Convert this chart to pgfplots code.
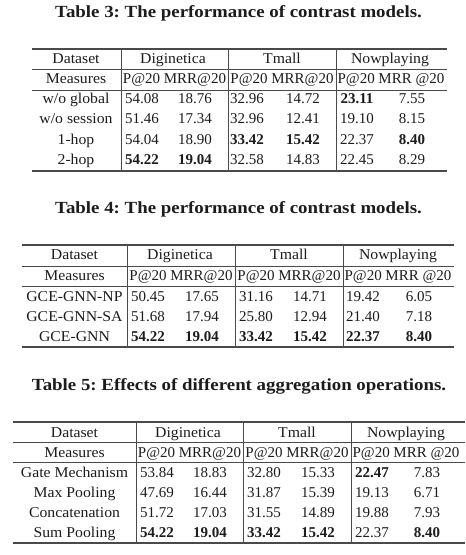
\documentclass[border=0pt]{standalone}
\usepackage{pgfplots}
\pgfplotsset{compat=1.18}
\usepackage{fontspec}
\setmainfont{Liberation Serif}
\newfontfamily\widefont{Liberation Serif}[FakeStretch=1.05]
\newfontfamily\titlefam{Liberation Serif}[FakeStretch=1.11]
\definecolor{rule}{HTML}{4A4A4A}
\definecolor{ink}{HTML}{1C1C1C}
\frenchspacing
\newcommand{\cellfont}{\fontsize{15bp}{17bp}\selectfont}
\newcommand{\labfont}{\widefont\fontsize{15bp}{17bp}\selectfont}
\newcommand{\titlefont}{\titlefam\fontsize{17bp}{19bp}\selectfont\bfseries}
\pgfplotsset{
  cells/.style={draw=none, mark=none, nodes near coords, point meta=explicit symbolic,
    every node near coord/.append style={anchor=base, inner sep=0pt, text=ink, font=\cellfont}},
  boldcells/.style={cells, every node near coord/.append style={font=\cellfont\bfseries}},
}
\begin{document}
\begin{tikzpicture}
\begin{axis}[
  hide axis, scale only axis, clip=false,
  width=465bp, height=555bp,
  xmin=0, xmax=465, ymin=0, ymax=555, y dir=reverse,
]
% ---------------- Table 3
\node[anchor=base, font=\titlefont, text=ink] at (axis cs:238.5,17.5) {Table 3: The performance of contrast models.};
\draw[rule, line width=1.3bp] (axis cs:32,49) -- (axis cs:447,49);
\draw[rule, line width=0.8bp] (axis cs:32,69) -- (axis cs:447,69);
\draw[rule, line width=0.8bp] (axis cs:32,90) -- (axis cs:447,90);
\draw[rule, line width=1.3bp] (axis cs:32,171) -- (axis cs:447,171);
\pgfplotsinvokeforeach{121,228,336}{\draw[rule, line width=0.8bp] (axis cs:#1,49) -- (axis cs:#1,171);}
\begin{scope}[every node/.style={anchor=base, font=\labfont, text=ink}]
\node at (axis cs:76,64) {Dataset};
\node at (axis cs:173,64) {Diginetica};
\node at (axis cs:282,64) {Tmall};
\node at (axis cs:390,64) {Nowplaying};
\node at (axis cs:76,84) {Measures};
\node at (axis cs:76,104) {w/o global};
\node at (axis cs:76,124) {w/o session};
\node at (axis cs:76,144) {1-hop};
\node at (axis cs:76,164) {2-hop};
\end{scope}
\begin{scope}[every node/.style={anchor=base, font=\cellfont, text=ink}]
\node at (axis cs:174.5,84) {P@20 MRR@20};
\node at (axis cs:282,84) {P@20 MRR@20};
\node at (axis cs:391,84) {P@20 MRR @20};
\end{scope}
\addplot[cells] coordinates {
  (142,104) [54.08] (142,124) [51.46] (142,144) [54.04]
  (195,104) [18.76] (195,124) [17.34] (195,144) [18.90]
  (247,104) [32.96] (247,124) [32.96] (247,164) [32.58]
  (303,104) [14.72] (303,124) [12.41] (303,164) [14.83]
  (357,124) [19.10] (357,144) [22.37] (357,164) [22.45]
  (412,104) [7.55] (412,124) [8.15] (412,164) [8.29]
};
\addplot[boldcells] coordinates {
  (142,164) [54.22] (195,164) [19.04]
  (247,144) [33.42] (303,144) [15.42]
  (357,104) [23.11] (412,144) [8.40]
};
% ---------------- Table 4
\node[anchor=base, font=\titlefont, text=ink] at (axis cs:238.5,213) {Table 4: The performance of contrast models.};
\draw[rule, line width=1.3bp] (axis cs:22,245) -- (axis cs:454,245);
\draw[rule, line width=0.8bp] (axis cs:22,266) -- (axis cs:454,266);
\draw[rule, line width=0.8bp] (axis cs:22,286) -- (axis cs:454,286);
\draw[rule, line width=1.3bp] (axis cs:22,347) -- (axis cs:454,347);
\pgfplotsinvokeforeach{127,235,343}{\draw[rule, line width=0.8bp] (axis cs:#1,245) -- (axis cs:#1,347);}
\begin{scope}[every node/.style={anchor=base, font=\labfont, text=ink}]
\node at (axis cs:74.5,259) {Dataset};
\node at (axis cs:180,259) {Diginetica};
\node at (axis cs:289,259) {Tmall};
\node at (axis cs:398,259) {Nowplaying};
\node at (axis cs:74.5,280) {Measures};
\node at (axis cs:74.5,301) {GCE-GNN-NP};
\node at (axis cs:74.5,321) {GCE-GNN-SA};
\node at (axis cs:74.5,341) {GCE-GNN};
\end{scope}
\begin{scope}[every node/.style={anchor=base, font=\cellfont, text=ink}]
\node at (axis cs:181,280) {P@20 MRR@20};
\node at (axis cs:289,280) {P@20 MRR@20};
\node at (axis cs:398,280) {P@20 MRR @20};
\end{scope}
\addplot[cells] coordinates {
  (148,301) [50.45] (148,321) [51.68]
  (202,301) [17.65] (202,321) [17.94]
  (256,301) [31.16] (256,321) [25.80]
  (310,301) [14.71] (310,321) [12.94]
  (363,301) [19.42] (363,321) [21.40]
  (419,301) [6.05] (419,321) [7.18]
};
\addplot[boldcells] coordinates {
  (148,341) [54.22] (202,341) [19.04]
  (256,341) [33.42] (310,341) [15.42]
  (363,341) [22.37] (419,341) [8.40]
};
% ---------------- Table 5
\node[anchor=base, font=\titlefont, text=ink] at (axis cs:239,390) {Table 5: Effects of different aggregation operations.};
\draw[rule, line width=1.3bp] (axis cs:13,422) -- (axis cs:465,422);
\draw[rule, line width=0.8bp] (axis cs:13,442) -- (axis cs:465,442);
\draw[rule, line width=0.8bp] (axis cs:13,462) -- (axis cs:465,462);
\draw[rule, line width=1.3bp] (axis cs:13,543) -- (axis cs:465,543);
\pgfplotsinvokeforeach{136,243,351}{\draw[rule, line width=0.8bp] (axis cs:#1,422) -- (axis cs:#1,543);}
\begin{scope}[every node/.style={anchor=base, font=\labfont, text=ink}]
\node at (axis cs:74.5,437) {Dataset};
\node at (axis cs:188,437) {Diginetica};
\node at (axis cs:297,437) {Tmall};
\node at (axis cs:406,437) {Nowplaying};
\node at (axis cs:74.5,457) {Measures};
\node at (axis cs:74.5,477) {Gate Mechanism};
\node at (axis cs:74.5,497) {Max Pooling};
\node at (axis cs:74.5,517) {Concatenation};
\node at (axis cs:74.5,537) {Sum Pooling};
\end{scope}
\begin{scope}[every node/.style={anchor=base, font=\cellfont, text=ink}]
\node at (axis cs:189.5,457) {P@20 MRR@20};
\node at (axis cs:297,457) {P@20 MRR@20};
\node at (axis cs:406,457) {P@20 MRR @20};
\end{scope}
\addplot[cells] coordinates {
  (157,477) [53.84] (157,497) [47.69] (157,517) [51.72]
  (210,477) [18.83] (210,497) [16.44] (210,517) [17.03]
  (264,477) [32.80] (264,497) [31.87] (264,517) [31.55]
  (318,477) [15.33] (318,497) [15.39] (318,517) [14.89]
  (372,497) [19.13] (372,517) [19.88] (372,537) [22.37]
  (427,477) [7.83] (427,497) [6.71] (427,517) [7.93]
};
\addplot[boldcells] coordinates {
  (157,537) [54.22] (210,537) [19.04]
  (264,537) [33.42] (318,537) [15.42]
  (372,477) [22.47] (427,537) [8.40]
};
\end{axis}
\path (0,0) rectangle (465bp,555bp);
\end{tikzpicture}
\end{document}
